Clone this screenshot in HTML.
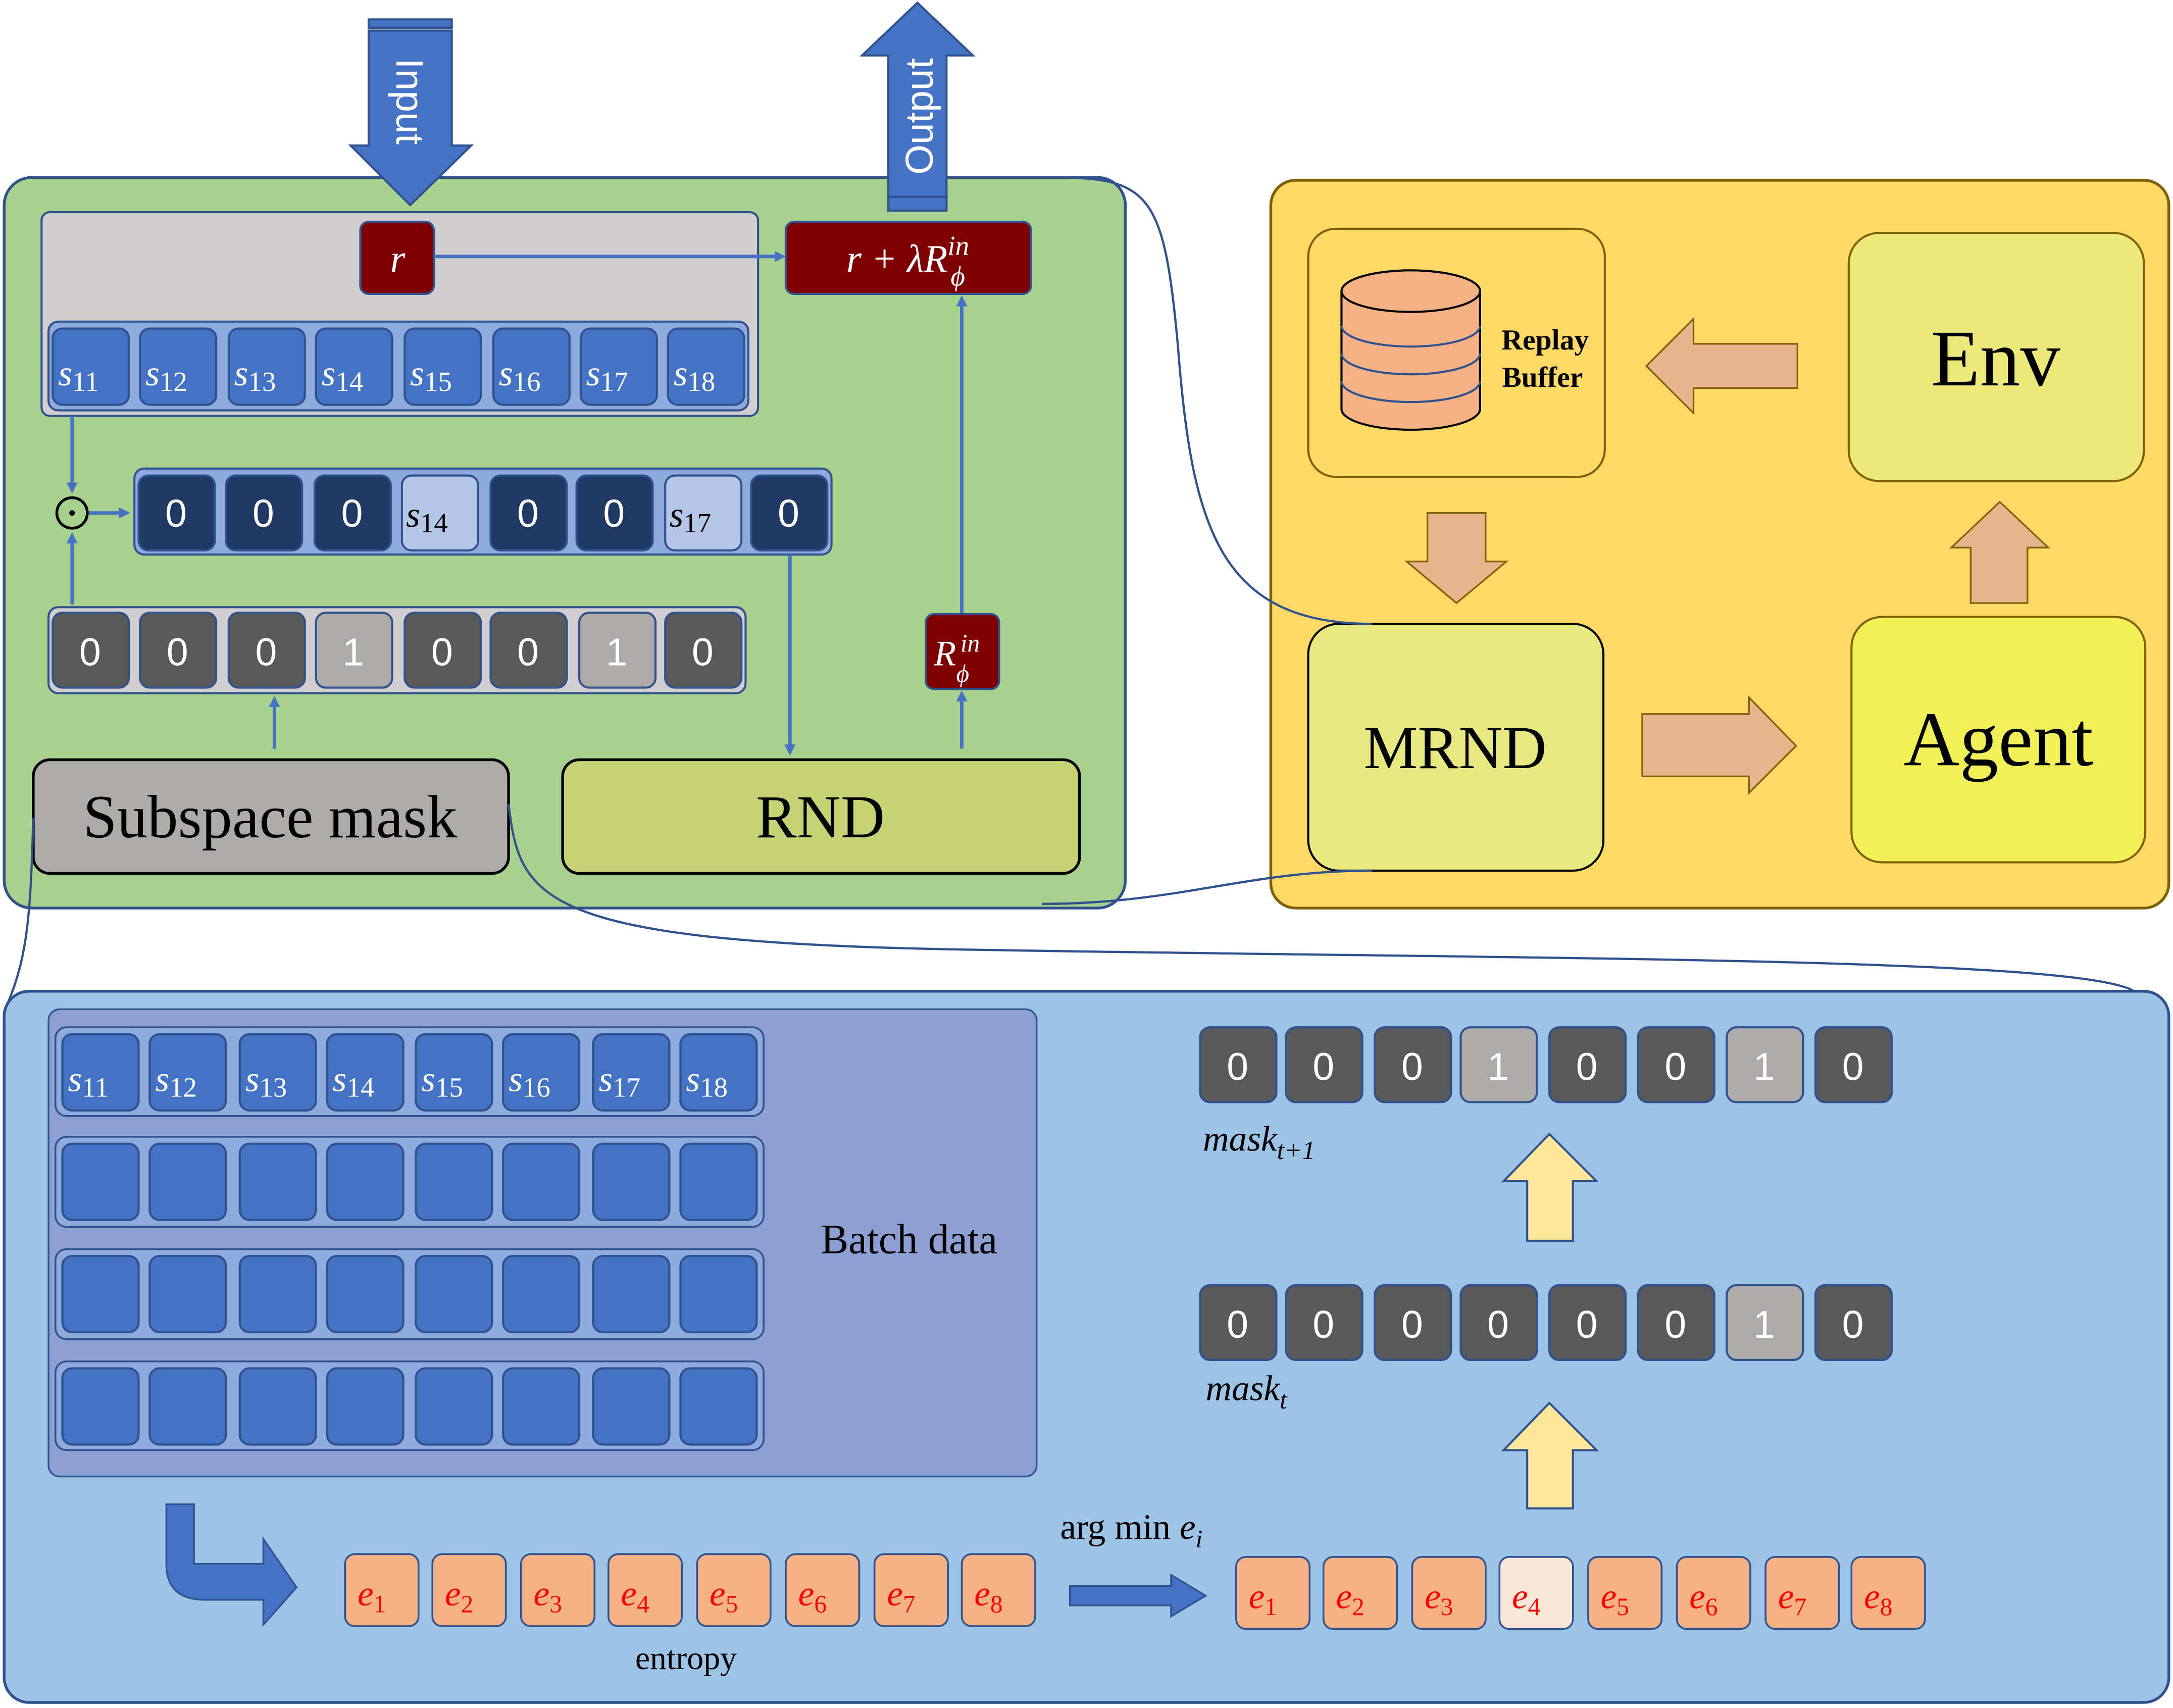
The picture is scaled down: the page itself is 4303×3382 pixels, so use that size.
<!DOCTYPE html>
<html><head><meta charset="utf-8"><style>
html,body{margin:0;padding:0;background:#fff;}
svg{display:block;}
text{font-family:"Liberation Serif",serif;}
.sans{font-family:"Liberation Sans",sans-serif;}
</style></head><body>
<svg width="4303" height="3382" viewBox="0 0 1568 1232" preserveAspectRatio="none" xmlns="http://www.w3.org/2000/svg">
<defs>
<marker id="ah" markerWidth="8" markerHeight="8" refX="6" refY="4" orient="auto" markerUnits="userSpaceOnUse"><path d="M0,0 L8,4 L0,8 z" fill="#4472c4"/></marker>
</defs>

<!-- GREEN PANEL -->
<rect x="3" y="128" width="809" height="527" rx="20" fill="#a9d18e" stroke="#2f528f" stroke-width="2"/>
<rect x="30" y="153" width="517" height="147" rx="6" fill="#d0cece" stroke="#2f528f" stroke-width="1.5"/>
<rect x="260" y="160" width="53" height="52" rx="6" fill="#7f0000" stroke="#2f528f" stroke-width="1.5"/>
<text x="287" y="196" fill="#fff" font-size="28" font-style="italic" text-anchor="middle">r</text>
<line x1="313" y1="185" x2="565" y2="185" stroke="#4472c4" stroke-width="2.5" marker-end="url(#ah)"/>
<rect x="567" y="160" width="177" height="52" rx="6" fill="#7f0000" stroke="#2f528f" stroke-width="1.5"/>
<text x="655" y="196" fill="#fff" font-size="28" font-style="italic" text-anchor="middle">r + λR<tspan font-size="20" dy="-12">in</tspan></text>
<text x="686" y="206" fill="#fff" font-size="20" font-style="italic">ϕ</text>

<rect x="35" y="232" width="505" height="64" rx="7" fill="#8faadc" stroke="#2f528f" stroke-width="1.5"/>
<g fill="#4472c4" stroke="#2f528f" stroke-width="1.5">
<rect x="38" y="237" width="55" height="55" rx="7"/><rect x="101" y="237" width="55" height="55" rx="7"/><rect x="165" y="237" width="55" height="55" rx="7"/><rect x="228" y="237" width="55" height="55" rx="7"/><rect x="292" y="237" width="55" height="55" rx="7"/><rect x="356" y="237" width="55" height="55" rx="7"/><rect x="419" y="237" width="55" height="55" rx="7"/><rect x="482" y="237" width="55" height="55" rx="7"/>
</g>
<g fill="#fff" font-size="26" font-style="italic">
<text x="42" y="278">s<tspan font-style="normal" font-size="20" dy="4">11</tspan></text>
<text x="105" y="278">s<tspan font-style="normal" font-size="20" dy="4">12</tspan></text>
<text x="169" y="278">s<tspan font-style="normal" font-size="20" dy="4">13</tspan></text>
<text x="232" y="278">s<tspan font-style="normal" font-size="20" dy="4">14</tspan></text>
<text x="296" y="278">s<tspan font-style="normal" font-size="20" dy="4">15</tspan></text>
<text x="360" y="278">s<tspan font-style="normal" font-size="20" dy="4">16</tspan></text>
<text x="423" y="278">s<tspan font-style="normal" font-size="20" dy="4">17</tspan></text>
<text x="486" y="278">s<tspan font-style="normal" font-size="20" dy="4">18</tspan></text>
</g>

<line x1="52" y1="300" x2="52" y2="354" stroke="#4472c4" stroke-width="2.5" marker-end="url(#ah)"/>
<circle cx="52" cy="370" r="11" fill="none" stroke="#000" stroke-width="2"/>
<circle cx="52" cy="370" r="2" fill="#000"/>
<line x1="52" y1="436" x2="52" y2="386" stroke="#4472c4" stroke-width="2.5" marker-end="url(#ah)"/>
<line x1="64" y1="370" x2="92" y2="370" stroke="#4472c4" stroke-width="2.5" marker-end="url(#ah)"/>

<rect x="97" y="338" width="503" height="62" rx="7" fill="#8faadc" stroke="#2f528f" stroke-width="1.5"/>
<g stroke="#2f528f" stroke-width="1.5">
<rect x="100" y="343" width="55" height="54" rx="7" fill="#203864"/><rect x="163" y="343" width="55" height="54" rx="7" fill="#203864"/><rect x="227" y="343" width="55" height="54" rx="7" fill="#203864"/><rect x="290" y="343" width="55" height="54" rx="7" fill="#b4c7e7"/><rect x="354" y="343" width="55" height="54" rx="7" fill="#203864"/><rect x="416" y="343" width="55" height="54" rx="7" fill="#203864"/><rect x="480" y="343" width="55" height="54" rx="7" fill="#b4c7e7"/><rect x="542" y="343" width="55" height="54" rx="7" fill="#203864"/>
</g>
<g class="sans" fill="#fff" font-size="28" text-anchor="middle">
<text x="127" y="380" class="sans">0</text><text x="190" y="380" class="sans">0</text><text x="254" y="380" class="sans">0</text><text x="381" y="380" class="sans">0</text><text x="443" y="380" class="sans">0</text><text x="569" y="380" class="sans">0</text>
</g>
<g fill="#000" font-size="26" font-style="italic">
<text x="293" y="380">s<tspan font-style="normal" font-size="20" dy="4">14</tspan></text>
<text x="483" y="380">s<tspan font-style="normal" font-size="20" dy="4">17</tspan></text>
</g>

<rect x="35" y="438" width="503" height="62" rx="7" fill="#d0cece" stroke="#2f528f" stroke-width="1.5"/>
<g stroke="#2f528f" stroke-width="1.5">
<rect x="38" y="442" width="55" height="54" rx="7" fill="#595959"/><rect x="101" y="442" width="55" height="54" rx="7" fill="#595959"/><rect x="165" y="442" width="55" height="54" rx="7" fill="#595959"/><rect x="228" y="442" width="55" height="54" rx="7" fill="#aeaaaa"/><rect x="292" y="442" width="55" height="54" rx="7" fill="#595959"/><rect x="354" y="442" width="55" height="54" rx="7" fill="#595959"/><rect x="418" y="442" width="55" height="54" rx="7" fill="#aeaaaa"/><rect x="480" y="442" width="55" height="54" rx="7" fill="#595959"/>
</g>
<g fill="#fff" font-size="28" text-anchor="middle">
<text x="65" y="480" class="sans">0</text><text x="128" y="480" class="sans">0</text><text x="192" y="480" class="sans">0</text><text x="255" y="480" class="sans">1</text><text x="319" y="480" class="sans">0</text><text x="381" y="480" class="sans">0</text><text x="445" y="480" class="sans">1</text><text x="507" y="480" class="sans">0</text>
</g>

<line x1="198" y1="540" x2="198" y2="504" stroke="#4472c4" stroke-width="2.5" marker-end="url(#ah)"/>
<line x1="570" y1="400" x2="570" y2="543" stroke="#4472c4" stroke-width="2.5" marker-end="url(#ah)"/>
<line x1="694" y1="540" x2="694" y2="500" stroke="#4472c4" stroke-width="2.5" marker-end="url(#ah)"/>
<line x1="694" y1="443" x2="694" y2="215" stroke="#4472c4" stroke-width="2.5" marker-end="url(#ah)"/>
<rect x="668" y="443" width="53" height="54" rx="6" fill="#7f0000" stroke="#2f528f" stroke-width="1.5"/>
<text x="674" y="480" fill="#fff" font-size="26" font-style="italic">R</text>
<text x="693" y="470" fill="#fff" font-size="18" font-style="italic">in</text>
<text x="690" y="492" fill="#fff" font-size="18" font-style="italic">ϕ</text>

<rect x="24" y="548" width="343" height="82" rx="12" fill="#aeaaaa" stroke="#000" stroke-width="2"/>
<text x="195" y="604" font-size="44" text-anchor="middle">Subspace mask</text>
<rect x="406" y="548" width="373" height="82" rx="12" fill="#c6d274" stroke="#000" stroke-width="2"/>
<text x="592" y="604" font-size="44" text-anchor="middle">RND</text>

<!-- input/output arrows -->
<g fill="#4472c4" stroke="#2f528f" stroke-width="1.5">
<polygon points="266,22 326,22 326,105 340,105 296,148 253,105 266,105"/>
<rect x="266" y="14" width="60" height="6"/>
<polygon points="641,150 683,150 683,40 702,40 662,2 622,40 641,40"/>
<rect x="641" y="142" width="42" height="10"/>
</g>
<text x="0" y="0" class="sans" fill="#fff" font-size="28" transform="translate(286,42) rotate(90)">Input</text>
<text x="0" y="0" class="sans" fill="#fff" font-size="28" transform="translate(673,126) rotate(-90)">Output</text>

<!-- YELLOW PANEL -->
<rect x="917" y="130" width="648" height="525" rx="18" fill="#ffd966" stroke="#7f6000" stroke-width="2"/>
<rect x="944" y="165" width="214" height="179" rx="20" fill="#ffd966" stroke="#7f6000" stroke-width="1.5"/>
<g stroke="#2f528f" stroke-width="1.5">
<path d="M968,210 L968,295 A50,15 0 0 0 1068,295 L1068,210" fill="#f4b183" stroke="#000"/>
<ellipse cx="1018" cy="210" rx="50" ry="15" fill="#f4b183" stroke="#000"/>
<path d="M968,235 A50,15 0 0 0 1068,235 M968,255 A50,15 0 0 0 1068,255 M968,275 A50,15 0 0 0 1068,275" fill="none"/>
</g>
<text x="1115" y="252" font-size="21" font-weight="bold" text-anchor="middle">Replay</text>
<text x="1113" y="279" font-size="21" font-weight="bold" text-anchor="middle">Buffer</text>
<rect x="1334" y="168" width="213" height="179" rx="22" fill="#ede87a" stroke="#7f6000" stroke-width="1.5"/>
<text x="1440" y="278" font-size="58" text-anchor="middle">Env</text>
<rect x="944" y="450" width="213" height="178" rx="22" fill="#e6ea80" stroke="#000" stroke-width="1.5"/>
<text x="1050" y="554" font-size="44" text-anchor="middle">MRND</text>
<rect x="1336" y="445" width="212" height="177" rx="22" fill="#f2ef58" stroke="#7f6000" stroke-width="1.5"/>
<text x="1442" y="552" font-size="56" text-anchor="middle">Agent</text>
<g fill="#e8b48c" stroke="#7f6000" stroke-width="1.2">
<polygon points="1297,248 1222,248 1222,230 1188,264 1222,298 1222,280 1297,280"/>
<polygon points="1030,370 1072,370 1072,405 1087,405 1051,435 1015,405 1030,405"/>
<polygon points="1185,515 1262,515 1262,503 1296,538 1262,572 1262,560 1185,560"/>
<polygon points="1422,435 1463,435 1463,395 1478,395 1443,362 1408,395 1422,395"/>
</g>

<!-- BLUE PANEL -->
<rect x="3" y="715" width="1562" height="513" rx="18" fill="#9dc3e6" stroke="#2f528f" stroke-width="2"/>
<rect x="35" y="728" width="713" height="337" rx="8" fill="#8ea0d3" stroke="#2f528f" stroke-width="1.2"/>
<g fill="#8faadc" stroke="#2f528f" stroke-width="1.3">
<rect x="40" y="741" width="511" height="64" rx="8"/><rect x="40" y="820" width="511" height="65" rx="8"/><rect x="40" y="901" width="511" height="65" rx="8"/><rect x="40" y="982" width="511" height="64" rx="8"/>
</g>
<g fill="#4472c4" stroke="#2f528f" stroke-width="1.5">
<rect x="45" y="746" width="55" height="55" rx="7"/><rect x="108" y="746" width="55" height="55" rx="7"/><rect x="173" y="746" width="55" height="55" rx="7"/><rect x="236" y="746" width="55" height="55" rx="7"/><rect x="300" y="746" width="55" height="55" rx="7"/><rect x="363" y="746" width="55" height="55" rx="7"/><rect x="428" y="746" width="55" height="55" rx="7"/><rect x="491" y="746" width="55" height="55" rx="7"/>
<rect x="45" y="825" width="55" height="55" rx="7"/><rect x="108" y="825" width="55" height="55" rx="7"/><rect x="173" y="825" width="55" height="55" rx="7"/><rect x="236" y="825" width="55" height="55" rx="7"/><rect x="300" y="825" width="55" height="55" rx="7"/><rect x="363" y="825" width="55" height="55" rx="7"/><rect x="428" y="825" width="55" height="55" rx="7"/><rect x="491" y="825" width="55" height="55" rx="7"/>
<rect x="45" y="906" width="55" height="55" rx="7"/><rect x="108" y="906" width="55" height="55" rx="7"/><rect x="173" y="906" width="55" height="55" rx="7"/><rect x="236" y="906" width="55" height="55" rx="7"/><rect x="300" y="906" width="55" height="55" rx="7"/><rect x="363" y="906" width="55" height="55" rx="7"/><rect x="428" y="906" width="55" height="55" rx="7"/><rect x="491" y="906" width="55" height="55" rx="7"/>
<rect x="45" y="987" width="55" height="55" rx="7"/><rect x="108" y="987" width="55" height="55" rx="7"/><rect x="173" y="987" width="55" height="55" rx="7"/><rect x="236" y="987" width="55" height="55" rx="7"/><rect x="300" y="987" width="55" height="55" rx="7"/><rect x="363" y="987" width="55" height="55" rx="7"/><rect x="428" y="987" width="55" height="55" rx="7"/><rect x="491" y="987" width="55" height="55" rx="7"/>
</g>
<g fill="#fff" font-size="26" font-style="italic">
<text x="49" y="787">s<tspan font-style="normal" font-size="20" dy="4">11</tspan></text>
<text x="112" y="787">s<tspan font-style="normal" font-size="20" dy="4">12</tspan></text>
<text x="177" y="787">s<tspan font-style="normal" font-size="20" dy="4">13</tspan></text>
<text x="240" y="787">s<tspan font-style="normal" font-size="20" dy="4">14</tspan></text>
<text x="304" y="787">s<tspan font-style="normal" font-size="20" dy="4">15</tspan></text>
<text x="367" y="787">s<tspan font-style="normal" font-size="20" dy="4">16</tspan></text>
<text x="432" y="787">s<tspan font-style="normal" font-size="20" dy="4">17</tspan></text>
<text x="495" y="787">s<tspan font-style="normal" font-size="20" dy="4">18</tspan></text>
</g>
<text x="656" y="904" font-size="30" text-anchor="middle">Batch data</text>

<!-- masks -->
<g stroke="#2f528f" stroke-width="1.5">
<rect x="866" y="741" width="55" height="54" rx="7" fill="#595959"/><rect x="928" y="741" width="55" height="54" rx="7" fill="#595959"/><rect x="992" y="741" width="55" height="54" rx="7" fill="#595959"/><rect x="1054" y="741" width="55" height="54" rx="7" fill="#aeaaaa"/><rect x="1118" y="741" width="55" height="54" rx="7" fill="#595959"/><rect x="1182" y="741" width="55" height="54" rx="7" fill="#595959"/><rect x="1246" y="741" width="55" height="54" rx="7" fill="#aeaaaa"/><rect x="1310" y="741" width="55" height="54" rx="7" fill="#595959"/>
<rect x="866" y="927" width="55" height="54" rx="7" fill="#595959"/><rect x="928" y="927" width="55" height="54" rx="7" fill="#595959"/><rect x="992" y="927" width="55" height="54" rx="7" fill="#595959"/><rect x="1054" y="927" width="55" height="54" rx="7" fill="#595959"/><rect x="1118" y="927" width="55" height="54" rx="7" fill="#595959"/><rect x="1182" y="927" width="55" height="54" rx="7" fill="#595959"/><rect x="1246" y="927" width="55" height="54" rx="7" fill="#aeaaaa"/><rect x="1310" y="927" width="55" height="54" rx="7" fill="#595959"/>
</g>
<g fill="#fff" font-size="28" text-anchor="middle">
<text x="893" y="779" class="sans">0</text><text x="955" y="779" class="sans">0</text><text x="1019" y="779" class="sans">0</text><text x="1081" y="779" class="sans">1</text><text x="1145" y="779" class="sans">0</text><text x="1209" y="779" class="sans">0</text><text x="1273" y="779" class="sans">1</text><text x="1337" y="779" class="sans">0</text>
<text x="893" y="965" class="sans">0</text><text x="955" y="965" class="sans">0</text><text x="1019" y="965" class="sans">0</text><text x="1081" y="965" class="sans">0</text><text x="1145" y="965" class="sans">0</text><text x="1209" y="965" class="sans">0</text><text x="1273" y="965" class="sans">1</text><text x="1337" y="965" class="sans">0</text>
</g>
<text x="868" y="830" font-size="26" font-style="italic">mask<tspan font-size="19" dy="6">t+1</tspan></text>
<text x="870" y="1010" font-size="26" font-style="italic">mask<tspan font-size="19" dy="6">t</tspan></text>
<g fill="#ffe699" stroke="#2f528f" stroke-width="1.5">
<polygon points="1102,895 1135,895 1135,852 1152,852 1118,818 1085,852 1102,852"/>
<polygon points="1102,1088 1135,1088 1135,1046 1152,1046 1118,1012 1085,1046 1102,1046"/>
</g>

<!-- entropy rows -->
<g fill="#f4b183" stroke="#2f528f" stroke-width="1.3">
<rect x="249" y="1121" width="53" height="52" rx="7"/><rect x="312" y="1121" width="53" height="52" rx="7"/><rect x="376" y="1121" width="53" height="52" rx="7"/><rect x="439" y="1121" width="53" height="52" rx="7"/><rect x="503" y="1121" width="53" height="52" rx="7"/><rect x="567" y="1121" width="53" height="52" rx="7"/><rect x="631" y="1121" width="53" height="52" rx="7"/><rect x="694" y="1121" width="53" height="52" rx="7"/>
<rect x="892" y="1123" width="53" height="52" rx="7"/><rect x="955" y="1123" width="53" height="52" rx="7"/><rect x="1019" y="1123" width="53" height="52" rx="7"/><rect x="1082" y="1123" width="53" height="52" rx="7" fill="#fbe5d6"/><rect x="1146" y="1123" width="53" height="52" rx="7"/><rect x="1210" y="1123" width="53" height="52" rx="7"/><rect x="1274" y="1123" width="53" height="52" rx="7"/><rect x="1336" y="1123" width="53" height="52" rx="7"/>
</g>
<g fill="#ff0000" font-size="26" font-style="italic">
<text x="258" y="1158">e<tspan font-style="normal" font-size="18" dy="5">1</tspan></text>
<text x="321" y="1158">e<tspan font-style="normal" font-size="18" dy="5">2</tspan></text>
<text x="385" y="1158">e<tspan font-style="normal" font-size="18" dy="5">3</tspan></text>
<text x="448" y="1158">e<tspan font-style="normal" font-size="18" dy="5">4</tspan></text>
<text x="512" y="1158">e<tspan font-style="normal" font-size="18" dy="5">5</tspan></text>
<text x="576" y="1158">e<tspan font-style="normal" font-size="18" dy="5">6</tspan></text>
<text x="640" y="1158">e<tspan font-style="normal" font-size="18" dy="5">7</tspan></text>
<text x="703" y="1158">e<tspan font-style="normal" font-size="18" dy="5">8</tspan></text>
<text x="901" y="1160">e<tspan font-style="normal" font-size="18" dy="5">1</tspan></text>
<text x="964" y="1160">e<tspan font-style="normal" font-size="18" dy="5">2</tspan></text>
<text x="1028" y="1160">e<tspan font-style="normal" font-size="18" dy="5">3</tspan></text>
<text x="1091" y="1160">e<tspan font-style="normal" font-size="18" dy="5">4</tspan></text>
<text x="1155" y="1160">e<tspan font-style="normal" font-size="18" dy="5">5</tspan></text>
<text x="1219" y="1160">e<tspan font-style="normal" font-size="18" dy="5">6</tspan></text>
<text x="1283" y="1160">e<tspan font-style="normal" font-size="18" dy="5">7</tspan></text>
<text x="1345" y="1160">e<tspan font-style="normal" font-size="18" dy="5">8</tspan></text>
</g>
<text x="495" y="1204" font-size="24" text-anchor="middle">entropy</text>
<text x="765" y="1110" font-size="26">arg min <tspan font-style="italic">e</tspan><tspan font-size="18" font-style="italic" dy="6">i</tspan></text>
<polygon points="772,1144 845,1144 845,1136 870,1151 845,1166 845,1158 772,1158" fill="#4472c4" stroke="#2f528f" stroke-width="1.2"/>
<path d="M120,1085 L140,1085 L140,1128 L190,1128 L190,1110 L214,1145 L190,1172 L190,1154 L148,1154 Q120,1154 120,1128 Z" fill="#4472c4" stroke="#2f528f" stroke-width="1.2"/>

<!-- connector curves (on top) -->
<g fill="none" stroke="#2f528f" stroke-width="1.6">
<path d="M760,128 C830,128 840,140 850,250 C860,380 880,450 990,450"/>
<path d="M752,652 C850,652 900,628 990,628"/>
<path d="M367,580 C375,650 390,680 700,685 C1100,692 1500,690 1540,715"/>
<path d="M24,590 C22,660 20,690 5,725"/>
</g>
</svg>
</body></html>
